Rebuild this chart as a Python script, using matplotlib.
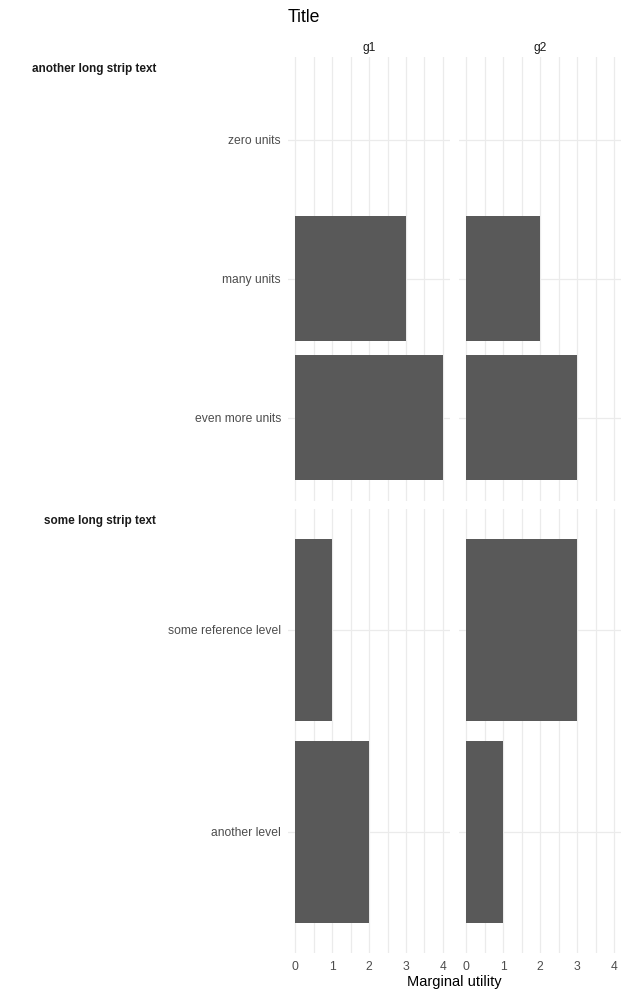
import matplotlib
matplotlib.use("Agg")
import matplotlib.pyplot as plt
import numpy as np

plt.rcParams['font.family'] = ['Liberation Sans', 'DejaVu Sans']

# data
groups = ["g1", "g2"]
strip_titles = ["another long strip text", "some long strip text"]
top_levels = ["zero units", "many units", "even more units"]
top_g1 = [0, 3, 4]
top_g2 = [0, 2, 3]
bottom_levels = ["some reference level", "another level"]
bottom_g1 = [1, 2]
bottom_g2 = [3, 1]

rows = [
    (top_levels, [top_g1, top_g2]),
    (bottom_levels, [bottom_g1, bottom_g2]),
]

W, H = 630, 997
DPI = 96
fig = plt.figure(figsize=(W / DPI, H / DPI), dpi=DPI)

def box(x0, y0, x1, y1):
    # pixel box (top-left origin) -> figure fraction rect
    return [x0 / W, 1 - y1 / H, (x1 - x0) / W, (y1 - y0) / H]

col_x = [(287.6, 450.4), (458.6, 621.4)]
row_y = [(56.6, 501.2), (508.6, 953.0)]

grid_col = "#EBEBEB"
txt_col = "#4D4D4D"
bar_col = "#595959"

for r, (levels, series) in enumerate(rows):
    y0, y1 = row_y[r]
    ypos = np.arange(len(levels))
    for c, vals in enumerate(series):
        x0, x1 = col_x[c]
        ax = fig.add_axes(box(x0, y0, x1, y1))
        ax.barh(ypos, vals, height=0.9, color=bar_col, zorder=2)
        ax.set_xlim(-0.2, 4.2)
        ax.set_ylim(len(levels) - 1 + 0.6, -0.6)
        ax.set_xticks([0, 1, 2, 3, 4])
        ax.set_xticks(np.arange(0.5, 4, 1), minor=True)
        ax.set_yticks(ypos)
        ax.grid(True, which="both", axis="x", color=grid_col, linewidth=0.9, zorder=0)
        ax.grid(True, which="major", axis="y", color=grid_col, linewidth=0.9, zorder=0)
        ax.set_axisbelow(True)
        for s in ax.spines.values():
            s.set_visible(False)
        ax.tick_params(which="both", length=0)
        ax.tick_params(axis="x", pad=6, labelsize=9.1, labelcolor=txt_col)
        ax.tick_params(axis="y", pad=5, labelsize=9.1, labelcolor=txt_col)
        if c == 0:
            ax.set_yticklabels(levels)
        else:
            ax.set_yticklabels([])
        if r == 0:
            ax.set_xticklabels([])
            ax.set_title(groups[c], fontsize=9.0, color="#1A1A1A", pad=4.4)

    # row strip text on the left
    fig.text(156 / W, 1 - (y0 + 15.4) / H, strip_titles[r], ha="right", va="baseline",
             fontsize=8.8, fontweight="bold", color="#1A1A1A")

fig.text(288 / W, 1 - 21.7 / H, "Title", ha="left", va="baseline", fontsize=13.2, color="black")
fig.text(454.5 / W, 1 - 986 / H, "Marginal utility", ha="center", va="baseline",
         fontsize=11, color="black")

fig.savefig("out.png", dpi=DPI, facecolor="white")
